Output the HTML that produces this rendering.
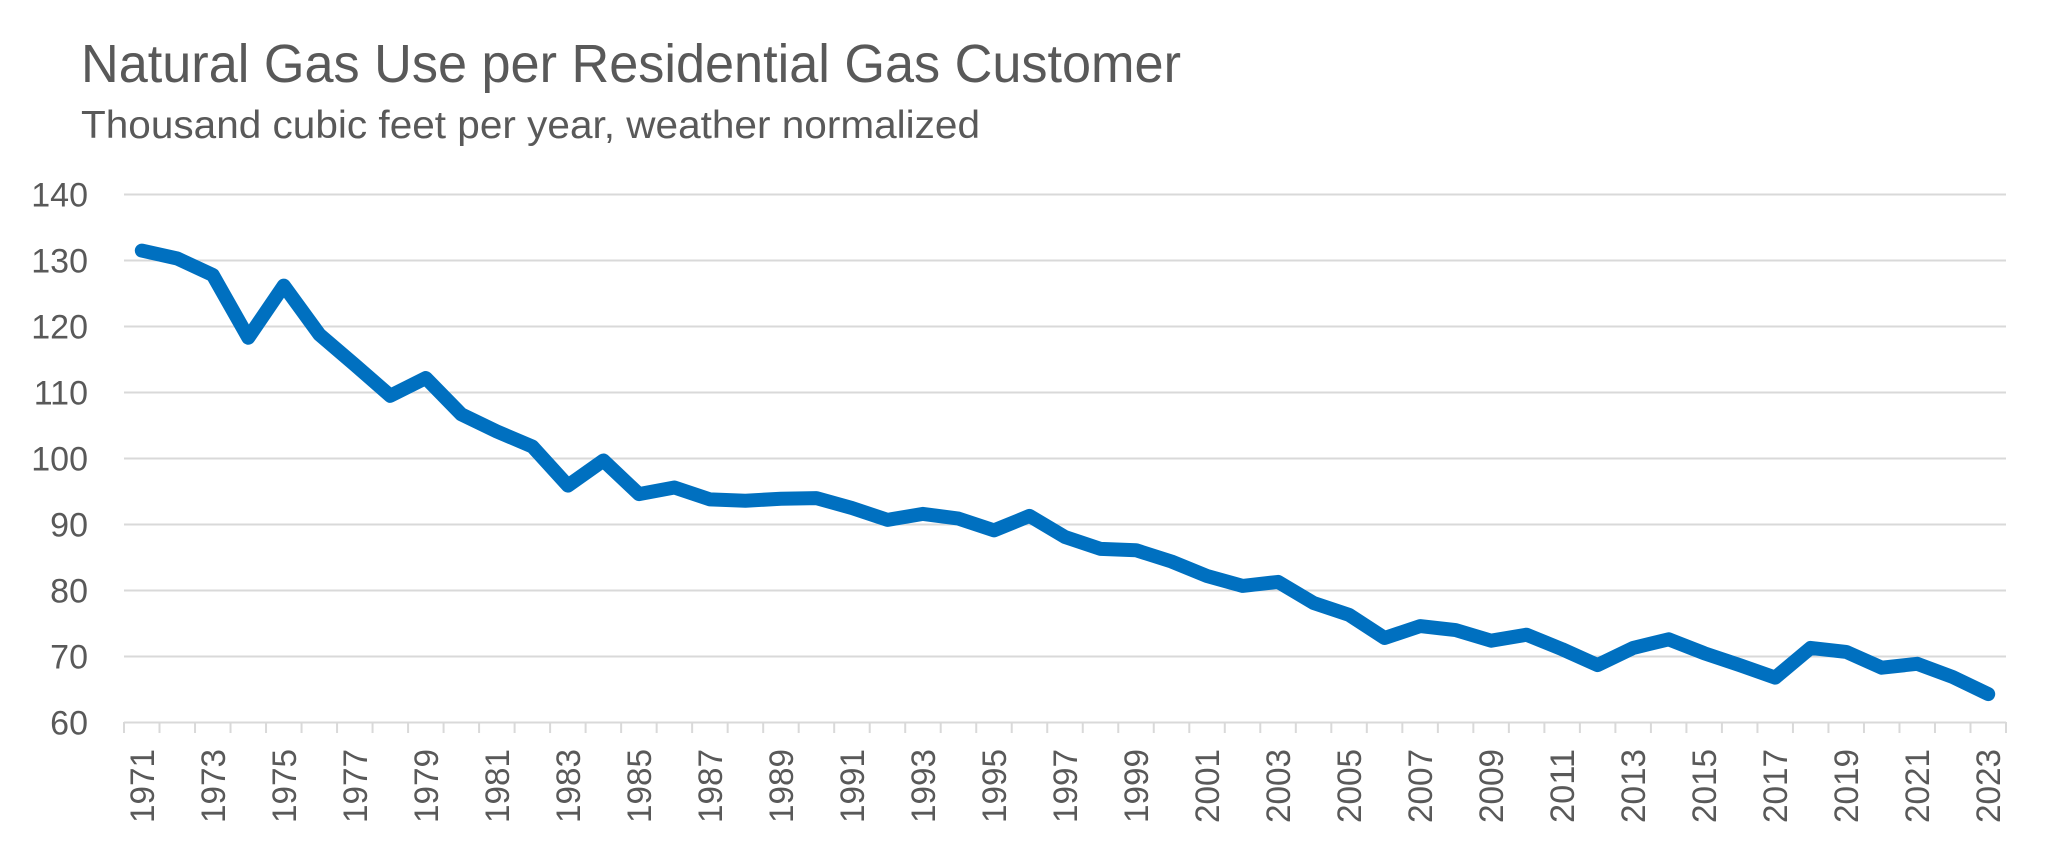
<!DOCTYPE html>
<html><head><meta charset="utf-8"><style>
html,body{margin:0;padding:0;background:#fff;}
svg{display:block;}
text{font-family:"Liberation Sans",sans-serif;fill:#595959;}
</style></head><body>
<svg width="2048" height="867" viewBox="0 0 2048 867" xmlns="http://www.w3.org/2000/svg">
<text x="81" y="82" font-size="54" textLength="1100" lengthAdjust="spacingAndGlyphs">Natural Gas Use per Residential Gas Customer</text>
<text x="81" y="138" font-size="39" textLength="899" lengthAdjust="spacingAndGlyphs">Thousand cubic feet per year, weather normalized</text>
<g id="grid" stroke="#d9d9d9" stroke-width="2"></g>
<g id="ylab" font-size="34" text-anchor="end"></g>
<g id="xlab" font-size="34"></g>
<polyline id="line" fill="none" stroke="#0070C0" stroke-width="14" stroke-linejoin="round" stroke-linecap="round"/>
</svg>
<script>
var NS="http://www.w3.org/2000/svg";
function el(t,a,p,txt){var e=document.createElementNS(NS,t);for(var k in a)e.setAttribute(k,a[k]);if(txt)e.textContent=txt;document.getElementById(p).appendChild(e);return e;}
var L=124,R=2006,step=(R-L)/53;
function Y(v){return 722.5-(v-60)*6.6;}
for(var v=60;v<=140;v+=10){el('line',{x1:L,x2:R,y1:Y(v),y2:Y(v)},'grid');el('text',{x:88,y:Y(v)+12},'ylab',String(v));}
for(var i=0;i<=53;i++){var x=L+i*step;el('line',{x1:x,x2:x,y1:722,y2:733},'grid');}
for(var i=0;i<53;i+=2){var x=L+step*(i+0.5)+12;el('text',{transform:'translate('+x+',823) rotate(-90)',textLength:74,lengthAdjust:'spacingAndGlyphs'},'xlab',String(1971+i));}
var d=[131.5,130.3,127.8,118.3,126.2,118.8,114.2,109.5,112.2,106.7,104.1,101.8,95.9,99.7,94.6,95.6,93.8,93.6,93.9,94.0,92.5,90.7,91.6,90.9,89.1,91.3,88.1,86.3,86.1,84.4,82.2,80.7,81.3,78.1,76.3,72.8,74.6,74.0,72.4,73.3,71.1,68.7,71.3,72.6,70.5,68.7,66.8,71.3,70.7,68.3,68.9,66.9,64.3];
var pts=d.map(function(v,i){return (L+step*(i+0.5)).toFixed(1)+','+Y(v).toFixed(1);}).join(' ');
document.getElementById('line').setAttribute('points',pts);
</script>
</body></html>
